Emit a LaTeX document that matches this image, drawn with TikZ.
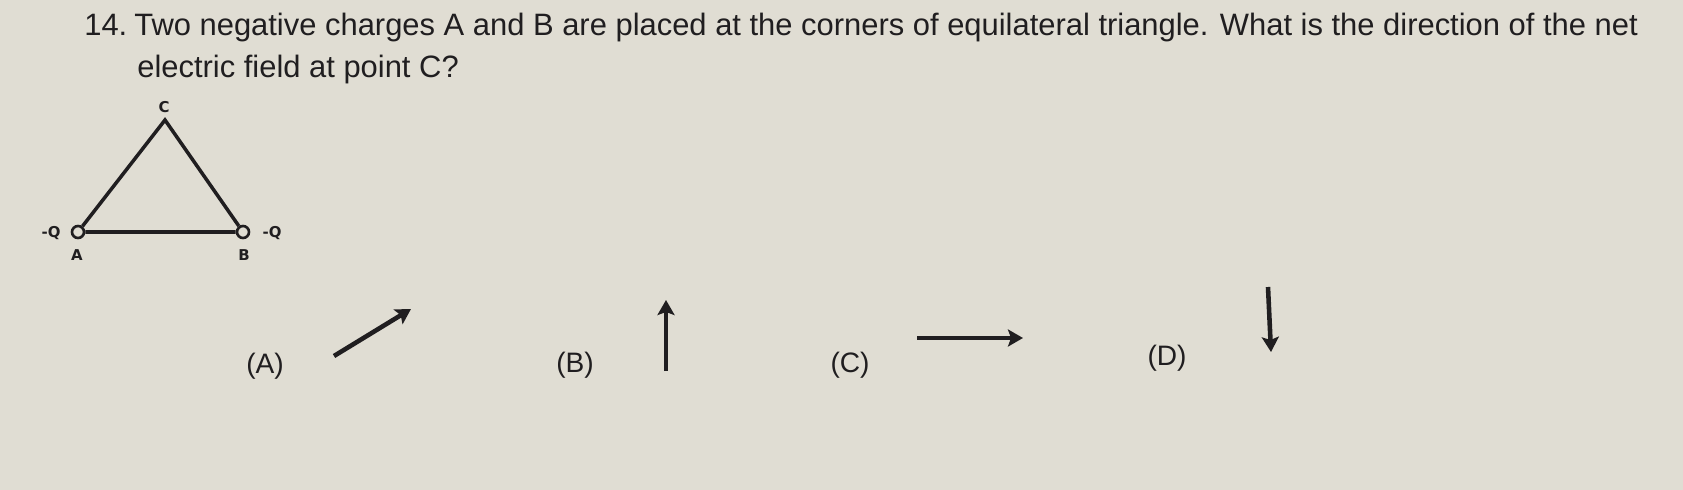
\documentclass[tikz,border=0pt]{standalone}
\usepackage{fontspec}
\setmainfont{Liberation Sans}
\newfontfamily\lblfont{DejaVu Sans}
\usetikzlibrary{arrows.meta}
\definecolor{paper}{RGB}{224,221,211}
\definecolor{ink}{RGB}{32,30,32}

\begin{document}
\begin{tikzpicture}[x=0.02cm,y=-0.02cm,
  qtext/.style={anchor=base west,inner sep=0,text=ink,font=\fontsize{17.6}{20}\selectfont},
  choice/.style={inner sep=0,text=ink,font=\fontsize{16}{19}\selectfont},
  charge/.style={circle,draw=ink,line width=1.5pt,fill=paper,minimum size=0.24cm,inner sep=0},
  lbl/.style={inner sep=0,text=ink,font=\lblfont\fontsize{8.5}{9}\selectfont\bfseries},
  side/.style={draw=ink,line width=2pt},
  vec/.style={draw=ink,line width=2.6pt,-{Stealth[length=0.3cm,width=0.34cm,inset=0.06cm]}}]
	\fill[paper] (0,0) rectangle (1683,490);
	\useasboundingbox (0,0) rectangle (1683,490);

	\node[qtext] (num)   at (84,35)  {14.};
	\node[qtext] (line1) at (134,35) {Two negative charges A and B are placed at the corners of equilateral triangle. What is the direction of the net};
	\node[qtext] (line2) at (137,77) {electric field at point C?};

	\coordinate (C) at (165,120);
	\node[charge] (A) at (78,232) {};
	\node[charge] (B) at (243,232) {};
	\draw[side] (A) -- (C) -- (B) -- (A);
	\node[lbl] (lC)  at (164,107) {C};
	\node[lbl] (lA)  at (77,255)  {A};
	\node[lbl] (lB)  at (244,255) {B};
	\node[lbl] (qA)  at (51,233)  {-Q};
	\node[lbl] (qB)  at (272,233) {-Q};

	\node[choice] (optA) at (265,366) {(A)};
	\node[choice] (optB) at (575,365) {(B)};
	\node[choice] (optC) at (850,365) {(C)};
	\node[choice] (optD) at (1167,358) {(D)};

	\coordinate (a1) at (334,356);  \coordinate (a2) at (411,309);
	\coordinate (b1) at (666,371);  \coordinate (b2) at (666,300);
	\coordinate (c1) at (917,338);  \coordinate (c2) at (1023,338);
	\coordinate (d1) at (1268,287); \coordinate (d2) at (1271,352);
	\draw[vec] (a1) -- (a2);
	\draw[vec] (b1) -- (b2);
	\draw[vec] (c1) -- (c2);
	\draw[vec] (d1) -- (d2);
\end{tikzpicture}
\end{document}
